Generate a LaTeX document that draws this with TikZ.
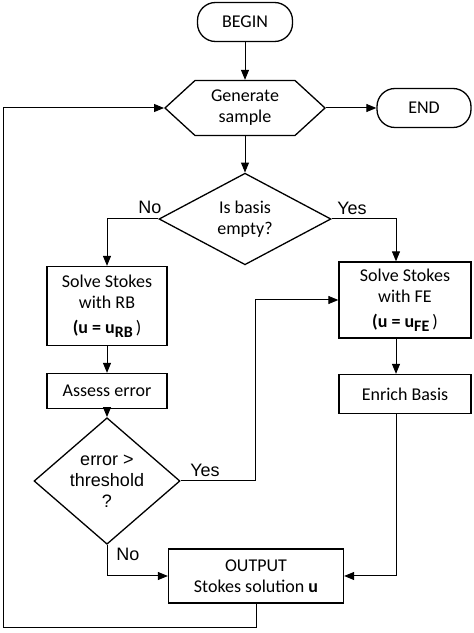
\documentclass[tikz,border=0pt]{standalone}
\usepackage{fontspec}
\setmainfont{Carlito}
\newfontfamily\arialfont{Liberation Sans}
\usepackage{xcolor}
\usetikzlibrary{arrows.meta,positioning,shapes.geometric,shapes.symbols}

\newcommand{\sfSub}[1]{\raisebox{-4pt}{\fontsize{16}{16}\selectfont #1}}

\begin{document}
\begin{tikzpicture}[x=1pt,y=1pt]
  \path[use as bounding box, fill=white] (0,0) rectangle (474,633);

  \tikzset{
    sfBox/.style={
      draw=black,
      fill=white,
      line width=1.3pt,
      inner sep=1pt,
      align=center,
      font=\fontsize{18}{21}\selectfont
    },
    sfTerminal/.style={
      sfBox,
      rounded corners=18pt,
      minimum width=95pt,
      minimum height=39pt
    },
    sfHexagon/.style={
      sfBox,
      signal,
      signal to=west and east,
      signal pointer angle=85,
      minimum width=160pt,
      minimum height=55pt
    },
    sfDecision/.style={
      sfBox,
      diamond,
      inner sep=0pt
    },
    sfLabel/.style={
      font=\arialfont\fontsize{18}{21}\selectfont
    },
    sfArrow/.style={
      -{Triangle[length=10pt,width=8pt]},
      draw=black,
      line width=1pt
    }
  }

  \node[sfTerminal] (begin) at (245,611) {BEGIN};
  \node[sfHexagon] (generate) at (245,525) {Generate\\sample};
  \node[sfTerminal, minimum width=94pt] (finish) at (424,525) {END};
  \node[sfDecision, minimum width=172pt, minimum height=87pt] (basis) at (245,414)
    {Is basis\\empty?};
  \node[sfBox, minimum width=120pt, minimum height=79pt] (solveRB) at (107,327)
    {Solve Stokes\\with RB\\[4pt] \textbf{(u = u\sfSub{RB}}\,)};
  \node[sfBox, minimum width=132pt, minimum height=76pt] (solveFE) at (405,333)
    {Solve Stokes\\with FE\\[4pt] \textbf{(u = u\sfSub{FE}}\,)};
  \node[sfBox, minimum width=120pt, minimum height=35pt] (assess) at (107,242)
    {Assess error};
  \node[sfBox, minimum width=132pt, minimum height=39pt] (enrich) at (405,239)
    {Enrich Basis};
  \node[sfDecision, minimum width=146pt, minimum height=85pt,
        font=\arialfont\fontsize{18}{21}\selectfont] (threshold) at (107,152)
    {error >\\threshold\\?};
  \node[sfBox, minimum width=175pt, minimum height=54pt] (output) at (256,57)
    {OUTPUT\\Stokes solution \textbf{u}};

  % branch labels
  \node[sfLabel] (labNo) at (150,426) {No};
  \node[sfLabel] (labYes) at (352,425) {Yes};
  \node[sfLabel] (labYesErr) at (205,163) {Yes};
  \node[sfLabel] (labNoErr) at (128,79) {No};

  \coordinate (feTop) at ([xshift=-9pt]solveFE.north);
  \coordinate (feBottom) at ([xshift=-9pt]solveFE.south);
  \coordinate (enrichTop) at ([xshift=-9pt]enrich.north);
  \coordinate (enrichBottom) at ([xshift=-9pt]enrich.south);
  \coordinate (yesBus) at (255,152);
  \coordinate (loopCorner) at (3,5);

  \draw[sfArrow] (begin.south) -- (generate.north);
  \draw[sfArrow] (generate.east) -- (finish.west);
  \draw[sfArrow] (generate.south) -- (basis.north);
  \draw[sfArrow] (basis.west) -| (solveRB.north);
  \draw[sfArrow] (basis.east) -| (feTop);
  \draw[sfArrow] (solveRB.south) -- (assess.north);
  \draw[sfArrow] (assess.south) -- (threshold.north);
  \draw[sfArrow] (feBottom) -- (enrichTop);
  \draw[sfArrow] (threshold.east) -- (yesBus) |- (solveFE.west);
  \draw[sfArrow] (threshold.south) |- (output.west);
  \draw[sfArrow] (enrichBottom) |- (output.east);
  % return loop to the next sample
  \draw[sfArrow] (output.south) |- (loopCorner) |- (generate.west);
\end{tikzpicture}
\end{document}
